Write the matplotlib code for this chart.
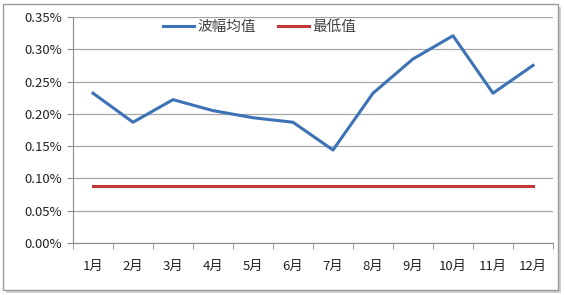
import numpy as np
import matplotlib.pyplot as plt
from matplotlib.patches import Rectangle
from matplotlib.ticker import FuncFormatter

plt.rcParams['font.family'] = ['Noto Sans CJK SC', 'DejaVu Sans']

months = ['1月', '2月', '3月', '4月', '5月', '6月', '7月', '8月', '9月', '10月', '11月', '12月']
avg_range = [0.232, 0.187, 0.222, 0.205, 0.194, 0.187, 0.144, 0.232, 0.285, 0.321, 0.232, 0.275]
min_value = [0.089] * 12

fig = plt.figure(figsize=(5.65, 2.95), dpi=100)

# 外框 + 阴影
fig.patches.append(Rectangle((6 / 565, 2 / 295), 555 / 565, 286 / 295, transform=fig.transFigure,
                             facecolor='#d0d0d0', edgecolor='none', zorder=-3))
fig.patches.append(Rectangle((3 / 565, 5 / 295), 555 / 565, 286 / 295, transform=fig.transFigure,
                             facecolor='white', edgecolor='#9a9a9a', linewidth=1, zorder=-2))

ax = fig.add_axes([73 / 565, 52 / 295, 480 / 565, 226 / 295])
ax.set_facecolor('none')
x = np.arange(len(months))
ax.plot(x, avg_range, color='#3d72b5', linewidth=2.2, label='波幅均值')
ax.plot(x, min_value, color='#c0393a', linewidth=2.2, label='最低值')

ax.set_xlim(-0.5, len(months) - 0.5)
ax.set_ylim(0, 0.35)
ax.set_yticks(np.arange(0, 0.351, 0.05))
ax.yaxis.set_major_formatter(FuncFormatter(lambda v, p: f'{v:.2f}%'))
ax.set_xticks(x)
ax.set_xticklabels(months)
ax.set_xticks(np.arange(-0.5, len(months), 1), minor=True)
ax.tick_params(axis='x', which='major', length=0, pad=12, labelsize=9.5, labelcolor='#222222')
ax.tick_params(axis='x', which='minor', length=4, color='#8c8c8c')
ax.tick_params(axis='y', length=4, color='#8c8c8c', labelsize=9.5, pad=4, labelcolor='#222222')

ax.grid(axis='y', color='#a6a6a6', linewidth=0.9)
ax.set_axisbelow(True)
for s in ['top', 'right']:
    ax.spines[s].set_visible(False)
for s in ['left', 'bottom']:
    ax.spines[s].set_color('#8c8c8c')

leg = ax.legend(loc='upper center', bbox_to_anchor=(0.389, 1.045), ncol=2, frameon=False,
                fontsize=10.5, handlelength=2.1, columnspacing=1.5, handletextpad=0.25)
for t in leg.get_texts():
    t.set_color('#404040')

fig.savefig('out.png', dpi=100)
